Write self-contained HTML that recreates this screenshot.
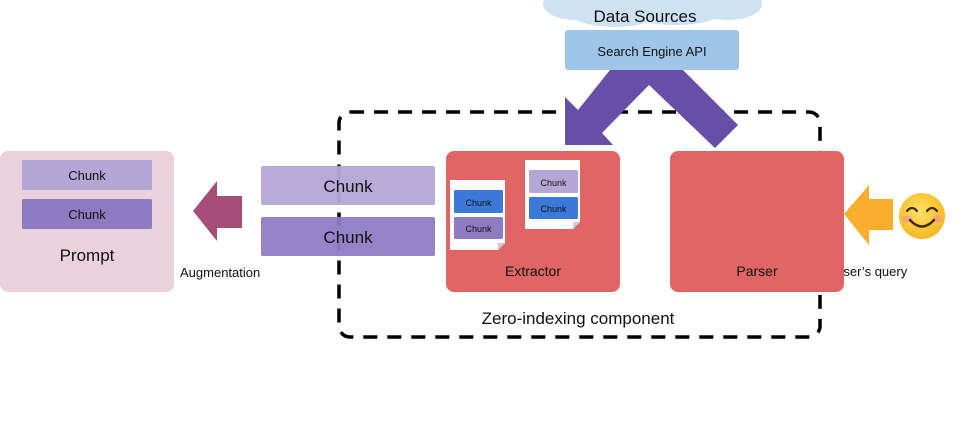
<!DOCTYPE html>
<html><head><meta charset="utf-8"><style>
html,body{margin:0;padding:0;background:#fff;width:968px;height:440px;overflow:hidden}
text{font-family:"Liberation Sans",sans-serif;fill:#111}
</style></head><body>
<svg width="968" height="440" viewBox="0 0 968 440" xmlns="http://www.w3.org/2000/svg">
<!-- cloud -->
<g fill="#cfe2f3">
<ellipse cx="575" cy="4" rx="32" ry="16"/>
<ellipse cx="615" cy="10" rx="48" ry="17"/>
<ellipse cx="675" cy="10" rx="50" ry="15"/>
<ellipse cx="728" cy="4" rx="34" ry="16"/>
<rect x="560" y="0" width="180" height="12"/>
</g>
<text x="645" y="22" font-size="17" text-anchor="middle">Data Sources</text>
<rect x="565" y="30" width="174" height="40" rx="3" fill="#9fc5e8"/>
<text x="652" y="56" font-size="13" text-anchor="middle">Search Engine API</text>

<rect x="339" y="112" width="481" height="225" rx="11" fill="none" stroke="#000" stroke-width="3.5" stroke-dasharray="14 10"/>

<polygon fill="#674ea7" points="610,70 683,70 738,125 715,148 649,85 602,133 613,145 565,145 565,97 578,110"/>

<text x="834" y="276" font-size="13">User’s query</text>

<rect x="446" y="151" width="174" height="141" rx="8" fill="#e06666"/>
<text x="533" y="276" font-size="14" text-anchor="middle">Extractor</text>
<polygon fill="#fff" points="450,180 505,180 505,243 498,250 450,250"/>
<polygon fill="#ccc" points="505,243 498,243 498,250"/>
<rect x="454" y="190" width="49" height="23" rx="1.5" fill="#3c78d8"/>
<rect x="454" y="217" width="49" height="22" rx="1.5" fill="#8e7cc3"/>
<text x="478.5" y="206" font-size="9" text-anchor="middle">Chunk</text>
<text x="478.5" y="232" font-size="9" text-anchor="middle">Chunk</text>
<polygon fill="#fff" points="525,160 580,160 580,222 573,229 525,229"/>
<polygon fill="#ccc" points="580,222 573,222 573,229"/>
<rect x="529" y="170" width="49" height="23" rx="1.5" fill="#b4a7d6"/>
<rect x="529" y="197" width="49" height="22" rx="1.5" fill="#3c78d8"/>
<text x="553.5" y="186" font-size="9" text-anchor="middle">Chunk</text>
<text x="553.5" y="212" font-size="9" text-anchor="middle">Chunk</text>

<rect x="670" y="151" width="174" height="141" rx="8" fill="#e06666"/>
<text x="757" y="276" font-size="14" text-anchor="middle">Parser</text>

<text x="578" y="324" font-size="17" text-anchor="middle">Zero-indexing component</text>

<rect x="261" y="166" width="174" height="39" rx="2" fill="#b4a7d6" fill-opacity="0.95"/>
<rect x="261" y="217" width="174" height="39" rx="2" fill="#8e7cc3" fill-opacity="0.95"/>
<text x="348" y="192" font-size="17" text-anchor="middle">Chunk</text>
<text x="348" y="243" font-size="17" text-anchor="middle">Chunk</text>

<rect x="0" y="151" width="174" height="141" rx="8" fill="#ead1dc"/>
<rect x="22" y="160" width="130" height="30" rx="1.5" fill="#b4a7d6"/>
<rect x="22" y="199" width="130" height="30" rx="1.5" fill="#8e7cc3"/>
<text x="87" y="180" font-size="13" text-anchor="middle">Chunk</text>
<text x="87" y="219" font-size="13" text-anchor="middle">Chunk</text>
<text x="87" y="261" font-size="17" text-anchor="middle">Prompt</text>

<polygon fill="#a64d79" points="193,211 217,181 217,196 242,196 242,228 217,228 217,241"/>
<text x="180" y="277" font-size="13">Augmentation</text>

<polygon fill="#fbae2e" points="844,214 869,185 869,199 893,199 893,230 869,230 869,245"/>

<defs><radialGradient id="g" cx="0.45" cy="0.4" r="0.6"><stop offset="0" stop-color="#ffe066"/><stop offset="1" stop-color="#f6b820"/></radialGradient></defs>
<circle cx="922" cy="216" r="23" fill="url(#g)"/>
<ellipse cx="907" cy="219" rx="5" ry="3.5" fill="#f59a8a" opacity="0.8"/>
<ellipse cx="937" cy="219" rx="5" ry="3.5" fill="#f59a8a" opacity="0.8"/>
<path d="M907 211 q5 -6 10 0 M927 211 q5 -6 10 0" fill="none" stroke="#402a10" stroke-width="2.2" stroke-linecap="round"/>
<path d="M910 220 q12 13 24 0" fill="none" stroke="#402a10" stroke-width="2.4" stroke-linecap="round"/>
</svg>
</body></html>
